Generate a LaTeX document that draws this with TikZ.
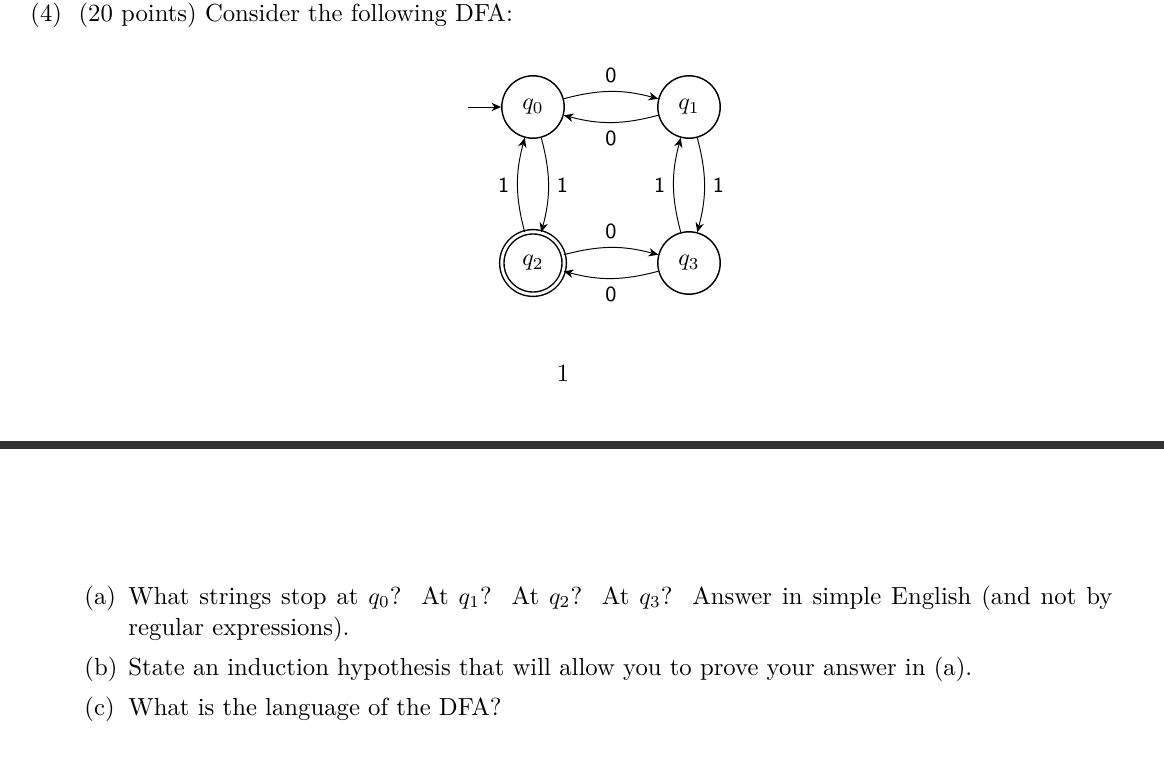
\documentclass[tikz,border=0pt]{standalone}
\usetikzlibrary{arrows.meta,automata}
\begin{document}
\begin{tikzpicture}[x=0.4167pt,y=-0.4167pt,
  st/.style={circle,draw,semithick,minimum size=26pt,inner sep=0pt,font=\normalsize},
  acc/.style={st,double,double distance=1.2pt},
  tr/.style={->,>={Stealth[length=4pt,width=3.5pt]},bend left=15},
  lab/.style={font=\sffamily\small},
  txt/.style={anchor=base west,inner sep=0pt,font=\fontsize{10.3}{12}\selectfont}]
\useasboundingbox (0,0) rectangle (1164,760);
\node[txt] (title) at (30,22) {(4)\ \ (20 points) Consider the following DFA:};
\node[st] (q0) at (533,107) {$q_0$};
\node[st] (q1) at (689,107) {$q_1$};
\node[acc] (q2) at (533,263) {$q_2$};
\node[st] (q3) at (689,263) {$q_3$};
\coordinate (s) at (468,107);
\draw[->,>={Stealth[length=4pt,width=3.5pt]}] (s) -- (q0);
\draw[tr] (q0) to node[lab,above] {0} (q1);
\draw[tr] (q1) to node[lab,below] {0} (q0);
\draw[tr] (q2) to node[lab,above] {0} (q3);
\draw[tr] (q3) to node[lab,below] {0} (q2);
\draw[tr] (q0) to node[lab,right] {1} (q2);
\draw[tr] (q2) to node[lab,left] {1} (q0);
\draw[tr] (q1) to node[lab,right] {1} (q3);
\draw[tr] (q3) to node[lab,left] {1} (q1);
\node[font=\fontsize{10.3}{12}\selectfont] (one) at (563,373) {1};
\fill[black!80] (0,441) rectangle (1164,449);
\node[txt] (a) at (84,604) {(a)};
\node[txt] (at) at (128,604) {\makebox[410pt][s]{What strings stop at $q_0$?\ \ At $q_1$?\ \ At $q_2$?\ \ At $q_3$?\ \ Answer in simple English (and not by}};
\node[txt] (a2) at (128,635) {regular expressions).};
\node[txt] (b) at (84,675) {(b)};
\node[txt] (bt) at (128,675) {State an induction hypothesis that will allow you to prove your answer in (a).};
\node[txt] (c) at (84,715) {(c)};
\node[txt] (ct) at (128,715) {What is the language of the DFA?};
\end{tikzpicture}
\end{document}
